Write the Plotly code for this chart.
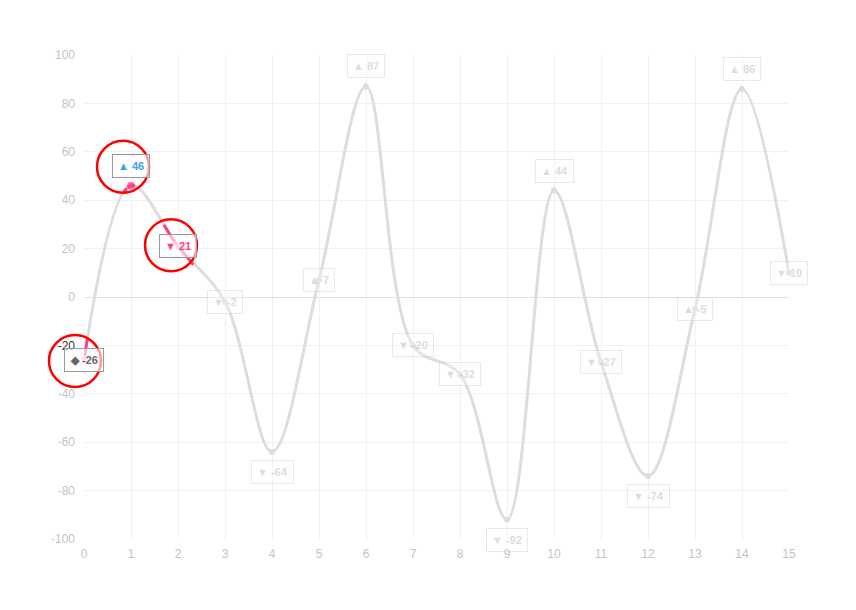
"""Linha suavizada com rótulos de variação e três pontos destacados."""

import plotly.graph_objects as go

# dados do gráfico
x_vals = list(range(16))
y_vals = [-26, 46, 21, -2, -64, 7, 87, -20, -32, -92, 44, -27, -74, -5, 86, 10]
x_ticks = list(range(16))
y_ticks = [-100, -80, -60, -40, -20, 0, 20, 40, 60, 80, 100]
highlighted = [0, 1, 2]          # pontos em destaque (círculos vermelhos)
highlight_text = {0: "#666666", 1: "#36a2eb", 2: "#ff3d88"}

X_RANGE = [0, 15]
Y_RANGE = [-100, 100]

GRAY_LINE = "#dddddd"
PINK = "#ff3d88"
LIGHT_PINK = "#ffb6cf"
FONT = "Liberation Sans, Arial, sans-serif"


def _label(i: int) -> tuple[str, int]:
    """Texto do rótulo (seta de variação) e deslocamento vertical em px."""
    v = y_vals[i]
    if i == 0:
        return f"◆ {v}", 0
    arrow = "▲" if v > y_vals[i - 1] else "▼"
    if 0 < i < len(y_vals) - 1:
        prev_v, next_v = y_vals[i - 1], y_vals[i + 1]
        if v > prev_v and v > next_v:
            return f"{arrow} {v}", 20
        if v < prev_v and v < next_v:
            return f"{arrow} {v}", -20
    return f"{arrow} {v}", 0


fig = go.Figure()

# linha principal cinza
fig.add_trace(go.Scatter(
    x=x_vals, y=y_vals, mode="lines+markers", line_shape="spline",
    line=dict(color=GRAY_LINE, width=3),
    marker=dict(color=GRAY_LINE, size=6),
    cliponaxis=False, hoverinfo="skip", showlegend=False,
))

# trechos rosa em volta dos pontos destacados (mesma spline, tracejada)
sub = highlighted + [highlighted[-1] + 1]
fig.add_trace(go.Scatter(
    x=[x_vals[i] for i in sub], y=[y_vals[i] for i in sub],
    mode="lines", line_shape="spline",
    line=dict(color=PINK, width=3, dash="22px,150px,16px,48px,50px,2000px"),
    hoverinfo="skip", showlegend=False,
))
fig.add_trace(go.Scatter(
    x=[x_vals[i] for i in highlighted], y=[y_vals[i] for i in highlighted],
    mode="markers",
    marker=dict(color=[LIGHT_PINK, PINK, LIGHT_PINK], size=[8, 9, 8]),
    cliponaxis=False, hoverinfo="skip", showlegend=False,
))

for i in x_vals:
    text, yshift = _label(i)
    hl = i in highlighted
    fig.add_annotation(
        x=x_vals[i], y=y_vals[i], text=f"<b>{text}</b>", showarrow=False,
        yshift=yshift, bgcolor="rgba(255,255,255,0.6)",
        bordercolor="#9a9a9a" if hl else "#d0d0d0", borderwidth=1, borderpad=5,
        font=dict(family=FONT, size=11, color=highlight_text.get(i, "#b5b5b5")),
        opacity=1.0 if hl else 0.45,
    )

# círculos vermelhos em volta dos rótulos destacados (em coordenadas de papel,
# para não serem cortados pela área do gráfico)
circle_offsets = {0: (-9, -1), 1: (-8, 19), 2: (-7, 1)}
for i in highlighted:
    dx, dy = circle_offsets[i]
    fig.add_shape(
        type="circle", xref="paper", yref="paper",
        xsizemode="pixel", ysizemode="pixel",
        xanchor=(x_vals[i] - X_RANGE[0]) / (X_RANGE[1] - X_RANGE[0]),
        yanchor=(y_vals[i] - Y_RANGE[0]) / (Y_RANGE[1] - Y_RANGE[0]),
        x0=dx - 26, x1=dx + 26, y0=dy - 26, y1=dy + 26,
        line=dict(color="#ff0000", width=2.5),
    )

y_ticktext = [
    f'<span style="color:#333333">{t}</span>' if t == -20 else str(t) for t in y_ticks
]

fig.update_layout(
    width=848, height=602, margin=dict(l=76, r=67, t=47, b=71),
    paper_bgcolor="white", plot_bgcolor="white",
    font=dict(family=FONT, size=12, color="#c4c4c4"),
    xaxis=dict(range=X_RANGE, tickvals=x_ticks, showgrid=True, gridcolor="#f1f1f1",
               zeroline=False, showline=False, ticks="", ticklabelstandoff=6),
    yaxis=dict(range=Y_RANGE, tickvals=y_ticks, ticktext=y_ticktext,
               showgrid=True, gridcolor="#f1f1f1", zeroline=True,
               zerolinecolor="#e2e2e2", zerolinewidth=1, showline=False, ticks="",
               ticklabelstandoff=8),
)

fig.write_html("out.html")
